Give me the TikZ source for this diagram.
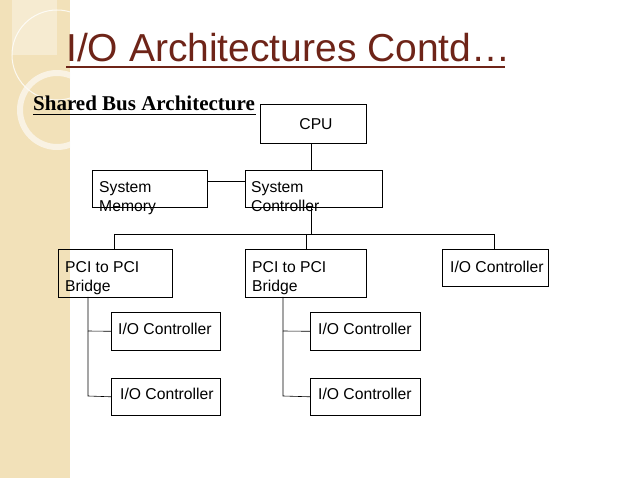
\documentclass[tikz,border=0pt]{standalone}
\usepackage{fontspec}
\setmainfont{Liberation Sans}
\newfontfamily\tms{Liberation Serif}
\usetikzlibrary{calc}
\definecolor{beige}{HTML}{F2E1B9}
\definecolor{titlered}{HTML}{6E2418}
\begin{document}
\begin{tikzpicture}[x=1pt,y=-1pt,
  box/.style={draw=black,line width=0.6pt,anchor=north west,inner sep=0pt},
  lbl/.style={anchor=north west,align=left,inner sep=0pt,font=\fontsize{15.7}{19}\selectfont},
  ln/.style={draw=black,line width=0.6pt}]
\useasboundingbox (0,0) rectangle (638,478);
\fill[white] (0,0) rectangle (638,478);
\fill[beige] (0,0) rectangle (70,478);
\begin{scope}
\clip (0,0) rectangle (70,478);
\fill[white,opacity=0.35] (12,0) rectangle (57,55);
\draw[white,line width=1pt,opacity=0.8] (57,55) circle (45);
\draw[white!85!beige,line width=6pt,opacity=0.7] (57,110) circle (37);
\end{scope}
\node[anchor=base west,inner sep=0pt,text=titlered,font=\fontsize{39}{44}\selectfont] (title) at (66,62) {I/O Architectures Contd…};
\draw[titlered,line width=2pt] (title.base west) ++(0,5) -- ++(439,0);
\node[anchor=base west,inner sep=0pt,font=\tms\bfseries\fontsize{21}{24}\selectfont] (sub) at (33,111) {Shared Bus Architecture};
\draw[line width=0.8pt] (33,114) -- (256,114);
% boxes
\node[box,minimum width=106,minimum height=39] (cpu) at (260,104) {};
\node[anchor=center,inner sep=0pt,font=\fontsize{15.7}{19}\selectfont] (cput) at (316,124) {CPU};
\node[box,minimum width=115,minimum height=37] (mem) at (92,170) {};
\node[lbl] (memt) at (99,181) {System\\Memory};
\node[box,minimum width=137,minimum height=37] (ctl) at (245,170) {};
\node[lbl] (ctlt) at (251,181) {System\\Controller};
\node[box,minimum width=114,minimum height=48] (pci1) at (58,249) {};
\node[lbl] (pci1t) at (65,261) {PCI to PCI\\Bridge};
\node[box,minimum width=121,minimum height=48] (pci2) at (245,249) {};
\node[lbl] (pci2t) at (252,261) {PCI to PCI\\Bridge};
\node[box,minimum width=106,minimum height=37] (io0) at (442,249) {};
\node[lbl] (io0t) at (450,261) {I/O Controller};
\node[box,minimum width=109,minimum height=38] (io1) at (111,312) {};
\node[lbl] (io1t) at (118,323) {I/O Controller};
\node[box,minimum width=109,minimum height=37] (io2) at (111,378) {};
\node[lbl] (io2t) at (120,388) {I/O Controller};
\node[box,minimum width=110,minimum height=38] (io3) at (310,312) {};
\node[lbl] (io3t) at (318,323) {I/O Controller};
\node[box,minimum width=110,minimum height=37] (io4) at (310,378) {};
\node[lbl] (io4t) at (318,388) {I/O Controller};
% connectors
\coordinate (busL) at (114,234);
\coordinate (busR) at (494,234);
\draw[ln] (cpu.south) ++(-2,0) coordinate (c1) -- (c1 |- ctl.north);
\draw[ln] (mem.east |- 0,181) -- (ctl.west |- 0,181);
\draw[ln] (c1 |- ctl.south) -- (c1 |- busL);
\draw[ln] (busL) -- (busR);
\draw[ln] (busL) -- (busL |- pci1.north);
\draw[ln] (306,234) -- (306,249);
\draw[ln] (busR) -- (busR |- io0.north);
\draw[ln] (88,297) -- (88,396) -- (io2.west);
\draw[ln] (88,331) -- (io1.west);
\draw[ln] (283,297) -- (283,396) -- (io4.west);
\draw[ln] (283,331) -- (io3.west);
\end{tikzpicture}
\end{document}
